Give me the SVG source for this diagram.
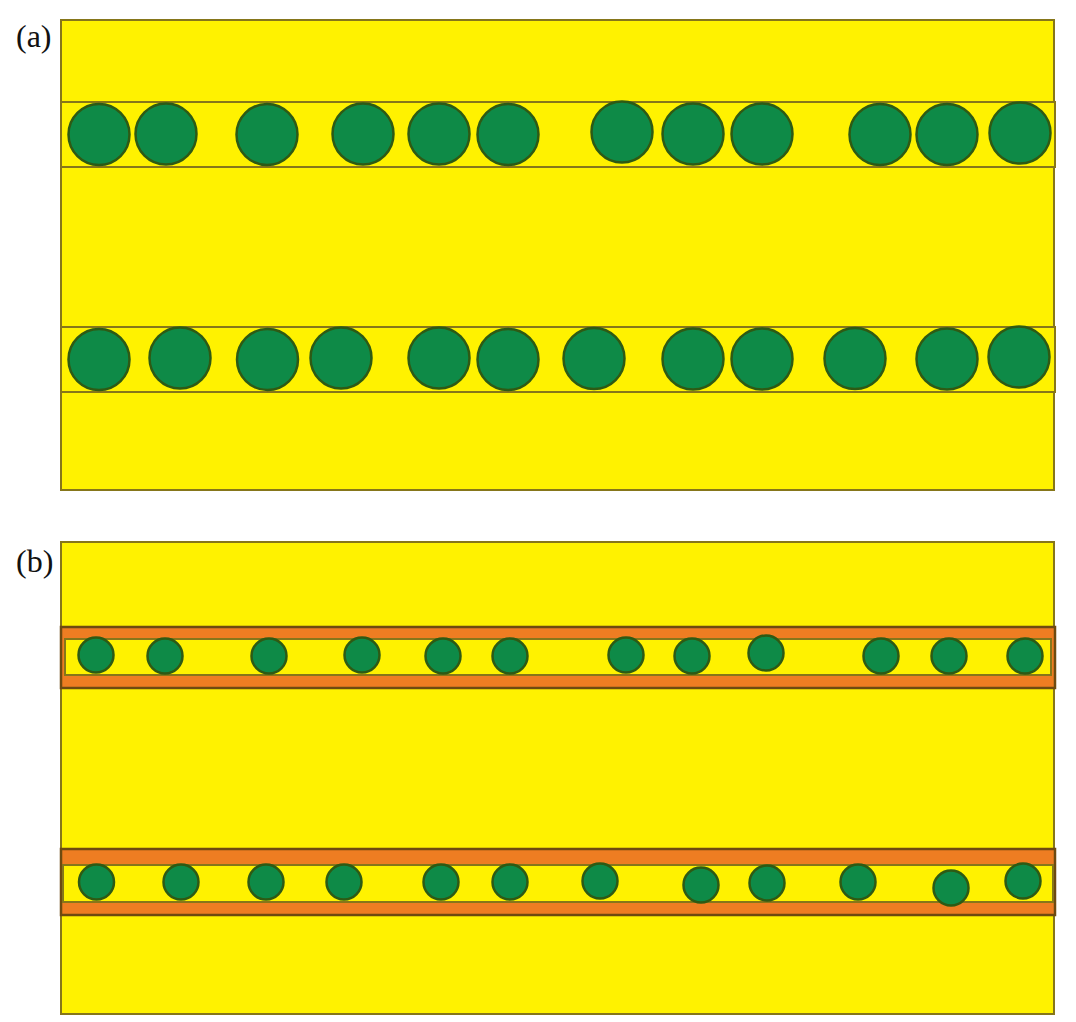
<svg xmlns="http://www.w3.org/2000/svg" width="1076" height="1022" viewBox="0 0 1076 1022">
<style>
.y{fill:#FFF200;stroke:#86761A;stroke-width:2}
.o{fill:#EE7D22;stroke:#6E4A10;stroke-width:2.5}
.c{fill:#0E8A47;stroke:#2E5A14;stroke-width:2.5}
.lbl{font-family:"Liberation Serif","Times New Roman",serif;font-size:32px;fill:#111}
</style>
<rect width="1076" height="1022" fill="#fff"/>
<g id="panel-a">
<text class="lbl" x="16" y="47">(a)</text>
<rect class="y" x="61" y="20" width="993" height="82"/>
<rect class="y" x="61" y="167" width="993" height="160"/>
<rect class="y" x="61" y="392" width="993" height="98"/>
<rect class="y" x="61" y="102" width="994" height="65"/>
<rect class="y" x="61" y="327" width="994" height="65"/>
<g id="a-row1">
<circle class="c" cx="99" cy="134.5" r="30.5"/>
<circle class="c" cx="166" cy="134" r="30.5"/>
<circle class="c" cx="267" cy="134.5" r="30.5"/>
<circle class="c" cx="363" cy="134" r="30.5"/>
<circle class="c" cx="439" cy="134" r="30.5"/>
<circle class="c" cx="508" cy="134.5" r="30.5"/>
<circle class="c" cx="622" cy="132" r="30.5"/>
<circle class="c" cx="693" cy="134" r="30.5"/>
<circle class="c" cx="762" cy="134" r="30.5"/>
<circle class="c" cx="880" cy="134.5" r="30.5"/>
<circle class="c" cx="947" cy="134.5" r="30.5"/>
<circle class="c" cx="1020" cy="133" r="30.5"/>
</g>
<g id="a-row2">
<circle class="c" cx="99" cy="359.5" r="30.5"/>
<circle class="c" cx="180" cy="358" r="30.5"/>
<circle class="c" cx="267.5" cy="359.5" r="30.5"/>
<circle class="c" cx="341" cy="358" r="30.5"/>
<circle class="c" cx="439" cy="358" r="30.5"/>
<circle class="c" cx="508" cy="359.5" r="30.5"/>
<circle class="c" cx="594" cy="358.5" r="30.5"/>
<circle class="c" cx="693" cy="359" r="30.5"/>
<circle class="c" cx="762" cy="359" r="30.5"/>
<circle class="c" cx="855" cy="358.5" r="30.5"/>
<circle class="c" cx="947" cy="359" r="30.5"/>
<circle class="c" cx="1019" cy="357" r="30.5"/>
</g>
</g>
<g id="panel-b">
<text class="lbl" x="16" y="572">(b)</text>
<rect class="y" x="61" y="542" width="993" height="85"/>
<rect class="y" x="61" y="688" width="993" height="161"/>
<rect class="y" x="61" y="915" width="993" height="99"/>
<rect class="o" x="61" y="627" width="994" height="61"/>
<rect class="y" x="65" y="639" width="986" height="36"/>
<rect class="o" x="61" y="849" width="994" height="66"/>
<rect class="y" x="63" y="865" width="990" height="37"/>
<g id="b-row1">
<circle class="c" cx="96" cy="655" r="17.5"/>
<circle class="c" cx="165" cy="656" r="17.5"/>
<circle class="c" cx="269" cy="656" r="17.5"/>
<circle class="c" cx="362" cy="655" r="17.5"/>
<circle class="c" cx="443" cy="656" r="17.5"/>
<circle class="c" cx="510" cy="656" r="17.5"/>
<circle class="c" cx="626" cy="655" r="17.5"/>
<circle class="c" cx="692" cy="656" r="17.5"/>
<circle class="c" cx="766" cy="653" r="17.5"/>
<circle class="c" cx="881" cy="656" r="17.5"/>
<circle class="c" cx="949" cy="656" r="17.5"/>
<circle class="c" cx="1025" cy="656" r="17.5"/>
</g>
<g id="b-row2">
<circle class="c" cx="96.5" cy="882" r="17.5"/>
<circle class="c" cx="181" cy="882" r="17.5"/>
<circle class="c" cx="266" cy="882" r="17.5"/>
<circle class="c" cx="344" cy="882" r="17.5"/>
<circle class="c" cx="441" cy="882" r="17.5"/>
<circle class="c" cx="510" cy="882" r="17.5"/>
<circle class="c" cx="600" cy="881" r="17.5"/>
<circle class="c" cx="701" cy="885" r="17.5"/>
<circle class="c" cx="767" cy="883" r="17.5"/>
<circle class="c" cx="858" cy="882" r="17.5"/>
<circle class="c" cx="951" cy="888" r="17.5"/>
<circle class="c" cx="1023" cy="881" r="17.5"/>
</g>
</g>
</svg>
